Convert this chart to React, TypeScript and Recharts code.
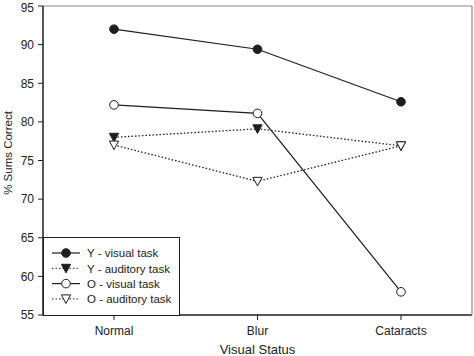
import { LineChart, Line, XAxis, YAxis, Legend, ReferenceLine } from 'recharts';

const categories = ['Normal', 'Blur', 'Cataracts'];
const yVisual = [92.0, 89.4, 82.6];
const yAuditory = [78.0, 79.1, 76.9];
const oVisual = [82.2, 81.1, 58.0];
const oAuditory = [77.0, 72.3, 76.9];
const yTicks = [55, 60, 65, 70, 75, 80, 85, 90, 95];

const data = categories.map((status, i) => ({
  status,
  yVisual: yVisual[i],
  yAuditory: yAuditory[i],
  oVisual: oVisual[i],
  oAuditory: oAuditory[i],
}));

interface SeriesDef {
  key: string,
  name: string,
  dotted: boolean,
  shape: 'circle' | 'tri',
  filled: boolean,
}

const series: SeriesDef[] = [
  { key: 'yVisual', name: 'Y - visual task', dotted: false, shape: 'circle', filled: true },
  { key: 'yAuditory', name: 'Y - auditory task', dotted: true, shape: 'tri', filled: true },
  { key: 'oVisual', name: 'O - visual task', dotted: false, shape: 'circle', filled: false },
  { key: 'oAuditory', name: 'O - auditory task', dotted: true, shape: 'tri', filled: false },
];

const INK = '#1e1e1e';
const FRAME = '#8a8a8a';
const FONT = 'Liberation Sans, Arial, sans-serif';

const Marker = ({ cx, cy, s }: { cx: number, cy: number, s: SeriesDef }) => {
  const fill = s.filled ? INK : '#fff';
  if (s.shape === 'circle') {
    return <circle cx={cx} cy={cy} r={4.3} fill={fill} stroke={INK} strokeWidth={1} />;
  }
  const pts = `${cx - 4.6},${cy - 4} ${cx + 4.6},${cy - 4} ${cx},${cy + 4.6}`;
  return <polygon points={pts} fill={fill} stroke={INK} strokeWidth={1} />;
};

const renderLegend = () => (
  <div
    style={{
      width: 137,
      height: 79,
      boxSizing: 'border-box',
      border: `1px solid ${INK}`,
      background: '#fff',
    }}
  >
    <svg width={135} height={77}>
      {series.map((s, i) => {
        const y = 15 + i * 15.3;
        return (
          <g key={s.key}>
            <line
              x1={8}
              x2={36}
              y1={y}
              y2={y}
              stroke={INK}
              strokeWidth={s.dotted ? 1 : 1.2}
              strokeDasharray={s.dotted ? '1.5 2' : undefined}
            />
            <Marker cx={22} cy={y} s={s} />
            <text x={43} y={y + 4.2} fontSize={11.5} fontFamily={FONT} fill="#222">
              {s.name}
            </text>
          </g>
        );
      })}
    </svg>
  </div>
);

// y title sits a bit above the plot centre in the original
const YTitle = () => (
  <text
    x={8}
    y={153}
    transform="rotate(-90, 8, 153)"
    textAnchor="middle"
    dominantBaseline="central"
    fontSize={11.5}
    fontFamily={FONT}
    fill="#222"
  >
    % Sums Correct
  </text>
);

const tickStyle = { fontSize: 12, fill: '#222', fontFamily: FONT };

const App = () => {
  return (
    <div style={{ position: 'absolute', left: 0, top: 0, background: '#fff' }}>
      <LineChart
        width={474}
        height={356}
        data={data}
        margin={{ top: 6, right: 0, left: 0, bottom: 0 }}
      >
        <ReferenceLine y={95} stroke={FRAME} strokeWidth={1.2} />
        <XAxis
          dataKey="status"
          type="category"
          height={41}
          padding={{ left: 71, right: 71 }}
          tickSize={5}
          tickMargin={6}
          tick={tickStyle}
          stroke={INK}
          axisLine={{ stroke: INK, strokeWidth: 1.5 }}
          label={{
            value: 'Visual Status',
            position: 'insideBottom',
            offset: 2,
            style: { ...tickStyle, fontSize: 13, textAnchor: 'middle' },
          }}
        />
        <YAxis
          type="number"
          domain={[55, 95]}
          ticks={yTicks}
          width={43}
          tickSize={5}
          tickMargin={4}
          tick={tickStyle}
          stroke={INK}
          axisLine={{ stroke: INK, strokeWidth: 1.5 }}
          label={<YTitle />}
        />
        <YAxis
          yAxisId="frame"
          orientation="right"
          type="number"
          domain={[55, 95]}
          width={2}
          tick={false}
          tickLine={false}
          axisLine={{ stroke: FRAME, strokeWidth: 1.2 }}
        />
        {series.map((s) => (
          <Line
            key={s.key}
            dataKey={s.key}
            name={s.name}
            type="linear"
            stroke={INK}
            strokeWidth={s.dotted ? 1.3 : 1.2}
            strokeDasharray={s.dotted ? '1.5 2' : undefined}
            isAnimationActive={false}
            activeDot={false}
            dot={(p: any) => <Marker key={`${s.key}-${p.index}`} cx={p.cx} cy={p.cy} s={s} />}
          />
        ))}
        <Legend
          layout="vertical"
          align="center"
          verticalAlign="middle"
          content={renderLegend}
          wrapperStyle={{ left: 43, top: 237, width: 137, height: 79 }}
        />
      </LineChart>
    </div>
  );
};

export default App;
